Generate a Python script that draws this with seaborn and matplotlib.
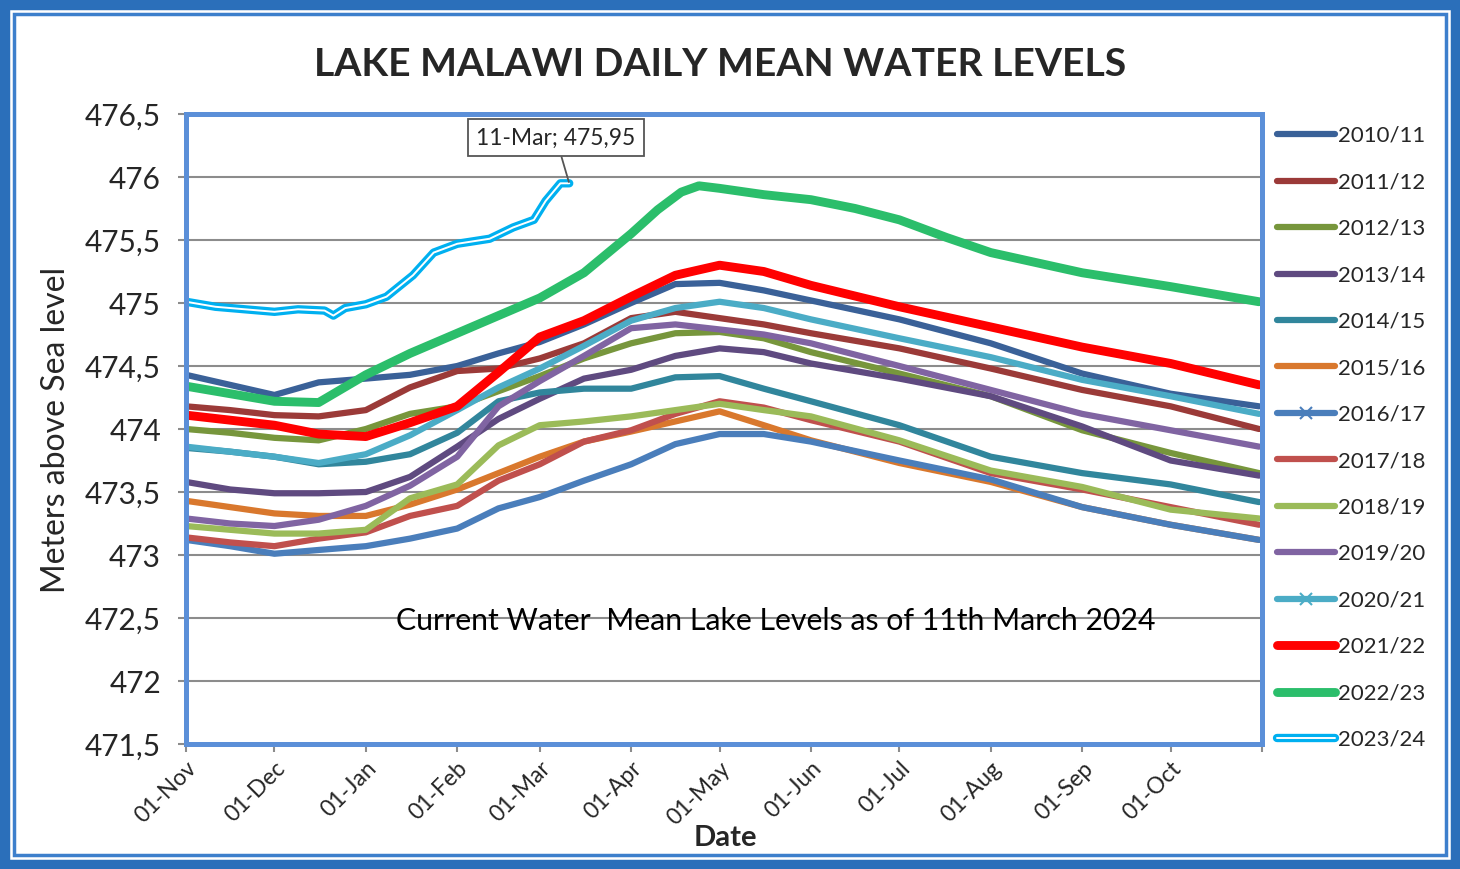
import numpy as np
import pandas as pd
import seaborn as sns
import matplotlib.pyplot as plt
from matplotlib.lines import Line2D
from matplotlib.patches import Rectangle
from matplotlib.ticker import FuncFormatter

sns.set_theme(style="white")
plt.rcParams['font.family'] = ['Lato', 'DejaVu Sans']

# day of the hydrological year, 0 = 01-Nov
days = [0, 15, 30, 45, 61, 76, 92, 106, 120, 135, 151, 166, 181, 196, 212, 242, 273, 304, 334, 364]

lvl_2010 = [474.43, 474.35, 474.27, 474.37, 474.40, 474.43, 474.50, 474.60, 474.69, 474.83,
            475.00, 475.15, 475.16, 475.10, 475.02, 474.87, 474.68, 474.44, 474.28, 474.18]
lvl_2011 = [474.18, 474.15, 474.11, 474.10, 474.15, 474.33, 474.46, 474.48, 474.56, 474.68,
            474.88, 474.93, 474.88, 474.83, 474.76, 474.64, 474.48, 474.31, 474.18, 474.00]
lvl_2012 = [474.00, 473.97, 473.93, 473.91, 474.00, 474.12, 474.18, 474.30, 474.42, 474.56,
            474.68, 474.76, 474.77, 474.72, 474.61, 474.44, 474.26, 473.99, 473.81, 473.65]
lvl_2013 = [473.58, 473.52, 473.49, 473.49, 473.50, 473.62, 473.86, 474.08, 474.24, 474.40,
            474.47, 474.58, 474.64, 474.61, 474.52, 474.40, 474.26, 474.02, 473.75, 473.63]
lvl_2014 = [473.85, 473.82, 473.78, 473.72, 473.74, 473.80, 473.97, 474.22, 474.29, 474.32,
            474.32, 474.41, 474.42, 474.32, 474.22, 474.03, 473.78, 473.65, 473.56, 473.42]
lvl_2015 = [473.43, 473.38, 473.33, 473.31, 473.31, 473.40, 473.52, 473.65, 473.78, 473.90,
            473.98, 474.06, 474.14, 474.03, 473.91, 473.73, 473.58, 473.38, 473.24, 473.12]
lvl_2016 = [473.12, 473.07, 473.01, 473.04, 473.07, 473.13, 473.21, 473.37, 473.46, 473.59,
            473.72, 473.88, 473.96, 473.96, 473.90, 473.75, 473.60, 473.38, 473.24, 473.12]
lvl_2017 = [473.14, 473.10, 473.07, 473.13, 473.18, 473.31, 473.39, 473.59, 473.72, 473.90,
            473.99, 474.12, 474.22, 474.17, 474.07, 473.90, 473.65, 473.52, 473.38, 473.24]
lvl_2018 = [473.23, 473.20, 473.17, 473.17, 473.20, 473.45, 473.56, 473.87, 474.03, 474.06,
            474.10, 474.15, 474.20, 474.15, 474.10, 473.91, 473.67, 473.54, 473.36, 473.29]
lvl_2019 = [473.29, 473.25, 473.23, 473.28, 473.39, 473.55, 473.78, 474.18, 474.38, 474.58,
            474.80, 474.83, 474.79, 474.75, 474.68, 474.50, 474.31, 474.12, 473.99, 473.86]
lvl_2020 = [473.86, 473.82, 473.78, 473.73, 473.80, 473.95, 474.15, 474.33, 474.48, 474.66,
            474.86, 474.96, 475.01, 474.96, 474.87, 474.72, 474.57, 474.39, 474.26, 474.12]
lvl_2021 = [474.11, 474.07, 474.03, 473.96, 473.94, 474.05, 474.18, 474.45, 474.73, 474.86,
            475.05, 475.22, 475.30, 475.25, 475.14, 474.97, 474.81, 474.65, 474.52, 474.35]

# 2022/23 has a few extra readings around its sharp peak
days_2022 = [0, 15, 30, 45, 61, 76, 92, 106, 120, 135, 151, 160, 168, 174, 181, 196, 212,
             227, 242, 258, 273, 304, 334, 364]
lvl_2022 = [474.34, 474.28, 474.22, 474.21, 474.43, 474.60, 474.76, 474.90, 475.04, 475.24,
            475.55, 475.74, 475.88, 475.93, 475.91, 475.86, 475.82, 475.75, 475.66, 475.52,
            475.40, 475.24, 475.13, 475.01]

# current season, up to 11-Mar
days_2023 = [0, 10, 20, 30, 38, 47, 50, 54, 61, 68, 77, 84, 92, 103, 111, 118, 122, 127, 130]
lvl_2023 = [475.01, 474.97, 474.95, 474.93, 474.95, 474.94, 474.90, 474.96, 474.99, 475.05,
            475.22, 475.40, 475.47, 475.51, 475.60, 475.66, 475.81, 475.95, 475.95]

seasons = ['2010/11', '2011/12', '2012/13', '2013/14', '2014/15', '2015/16', '2016/17',
           '2017/18', '2018/19', '2019/20', '2020/21', '2021/22', '2022/23', '2023/24']
levels = [lvl_2010, lvl_2011, lvl_2012, lvl_2013, lvl_2014, lvl_2015, lvl_2016,
          lvl_2017, lvl_2018, lvl_2019, lvl_2020, lvl_2021]
colors = ['#3A6198', '#9B3A38', '#77963C', '#5F4A80', '#31869C', '#D9782D', '#4A7EBB',
          '#C0504D', '#9BBB59', '#8064A2', '#4BACC6', '#FF0000', '#2BBE6B', '#00B0F0']

month_days = [0, 30, 61, 92, 120, 151, 181, 212, 242, 273, 304, 334]
month_labels = ['01-Nov', '01-Dec', '01-Jan', '01-Feb', '01-Mar', '01-Apr',
                '01-May', '01-Jun', '01-Jul', '01-Aug', '01-Sep', '01-Oct']

fig = plt.figure(figsize=(14.6, 8.69), dpi=100)
ax = fig.add_axes([186 / 1460, 1 - 744 / 869, 1076 / 1460, 630 / 869])

for name, lv, c in zip(seasons[:12], levels, colors[:12]):
    df = pd.DataFrame({'day': days, 'level': lv})
    lw = 6.4 if name == '2021/22' else 4.5
    sns.lineplot(data=df, x='day', y='level', color=c, linewidth=lw, ax=ax,
                 estimator=None, sort=False, legend=False)

df22 = pd.DataFrame({'day': days_2022, 'level': lvl_2022})
sns.lineplot(data=df22, x='day', y='level', color=colors[12], linewidth=6.4, ax=ax,
             estimator=None, sort=False, legend=False)

# double line for the current season
df23 = pd.DataFrame({'day': days_2023, 'level': lvl_2023})
sns.lineplot(data=df23, x='day', y='level', color=colors[-1], linewidth=6.0, ax=ax,
             estimator=None, sort=False, legend=False)
sns.lineplot(data=df23, x='day', y='level', color='white', linewidth=1.4, ax=ax,
             estimator=None, sort=False, legend=False)

ax.set_xlim(0, 365)
ax.set_ylim(471.5, 476.5)
ax.set_yticks(np.arange(471.5, 476.51, 0.5))
ax.yaxis.set_major_formatter(FuncFormatter(lambda v, p: f"{v:g}".replace('.', ',')))
ax.set_xticks(month_days + [365])
ax.set_xticklabels(month_labels + [''], rotation=45, ha='right', rotation_mode='anchor')
ax.yaxis.grid(True, color='#8C8C8C', linewidth=1.5)
ax.xaxis.grid(False)
ax.tick_params(axis='both', which='major', direction='out', length=6, width=1.5,
               color='#8C8C8C', left=True, bottom=True, pad=4)
ax.tick_params(axis='y', labelsize=21.5, pad=12)
ax.tick_params(axis='x', labelsize=16.5)
ax.set_xlabel('')
ax.set_ylabel('')
for s in ax.spines.values():
    s.set_color('#5B8FD8')
    s.set_linewidth(3.6)

# callout for latest value
ax.annotate('11-Mar; 475,95', xy=(130, 475.95), xytext=(125.5, 476.31),
            ha='center', va='center', fontsize=16.5,
            bbox=dict(boxstyle='square,pad=0.35', fc='white', ec='#555555', lw=1.3),
            arrowprops=dict(arrowstyle='-', color='#555555', lw=1.3, shrinkA=0, shrinkB=1))

ax.text(200, 472.48, 'Current Water  Mean Lake Levels as of 11th March 2024',
        ha='center', va='center', fontsize=21.8, color='black')

fig.text(720 / 1460, 1 - 65 / 869, 'LAKE MALAWI DAILY MEAN WATER LEVELS',
         ha='center', va='center', fontsize=28.2, weight='bold')
fig.text(56 / 1460, 1 - 430 / 869, 'Meters above Sea level', rotation=90,
         ha='center', va='center', fontsize=23)
fig.text(725 / 1460, 1 - 838 / 869, 'Date', ha='center', va='center',
         fontsize=21, weight='bold')

# legend
handles = []
for name, c in zip(seasons, colors):
    if name == '2023/24':
        h = (Line2D([], [], color=c, lw=6.0), Line2D([], [], color='white', lw=1.4))
    elif name in ('2016/17', '2020/21'):
        h = Line2D([], [], color=c, lw=4.5, marker='x', markersize=9, markeredgewidth=1.5)
    else:
        lw = 6.4 if name in ('2021/22', '2022/23') else 4.5
        h = Line2D([], [], color=c, lw=lw, solid_capstyle='round')
    handles.append(h)
fig.legend(handles, seasons, loc='upper left', bbox_to_anchor=(1277 / 1460, 1 - 126 / 869),
           frameon=False, fontsize=16, handlelength=2.6, handletextpad=0.15,
           labelspacing=1.19, borderaxespad=0, borderpad=0)

# double frame around the whole picture
fig.patches.append(Rectangle((0, 0), 1, 1, transform=fig.transFigure, fill=False,
                             edgecolor='#2B6FBA', linewidth=14))
fig.patches.append(Rectangle((14 / 1460, 14 / 869), 1 - 28 / 1460, 1 - 28 / 869,
                             transform=fig.transFigure, fill=False,
                             edgecolor='#3D7FCC', linewidth=2.5))

fig.savefig('out.png', dpi=100)
